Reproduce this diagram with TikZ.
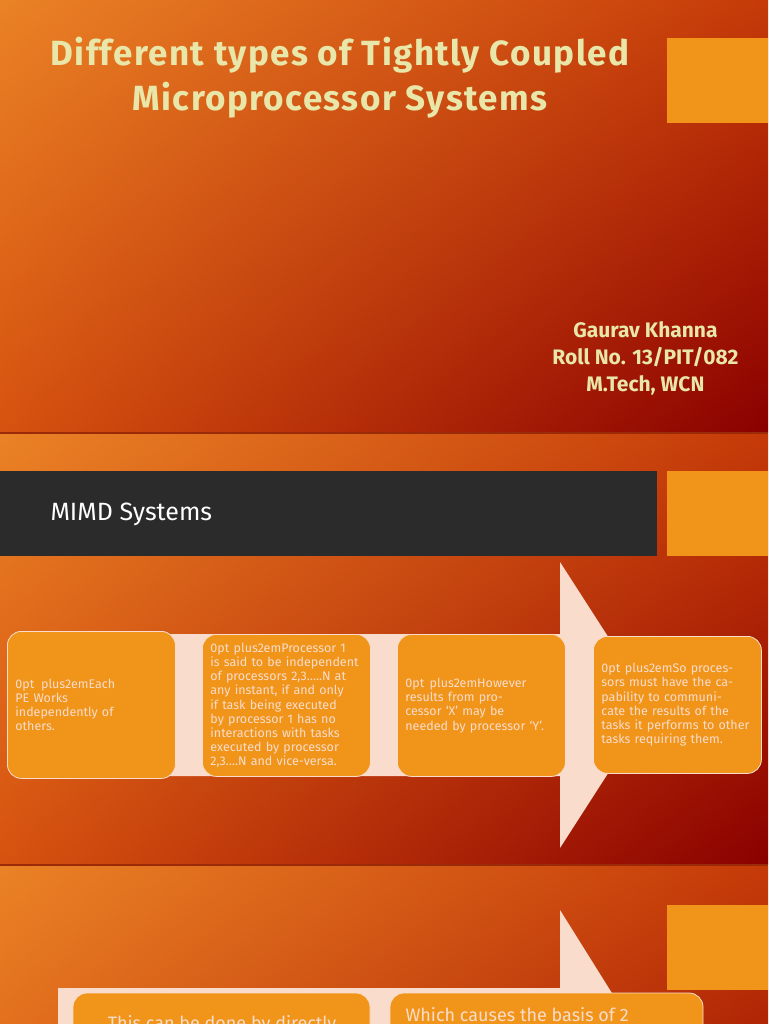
\documentclass[tikz,border=0pt]{standalone}
\usepackage{fontspec}
\usetikzlibrary{shadings}
\setmainfont{Fira Sans}
\definecolor{og}{HTML}{F0951A}
\definecolor{ul}{HTML}{EA8226}
\definecolor{ur}{HTML}{C53A08}
\definecolor{ll}{HTML}{D6520F}
\definecolor{lr}{HTML}{8A0000}
\definecolor{pale}{HTML}{F9DCCC}
\definecolor{ttl}{HTML}{E8E6A8}
\definecolor{sep}{HTML}{9A2A08}
\begin{document}
\begin{tikzpicture}[x=1pt,y=-1pt,
 sq/.style={fill=og},
 pbox/.style={draw=pale,line width=0.8pt,fill=og,rounded corners=14pt,minimum width=168pt,minimum height=142pt,text width=152pt,align=center,text=pale,font=\fontsize{12.5}{14.2}\selectfont\hyphenpenalty=10000,anchor=north west},
 sbox/.style={draw=pale,line width=0.8pt,fill=og,rounded corners=14pt,anchor=north west},
 ttlfont/.style={text=ttl,font=\fontsize{35}{45}\selectfont\bfseries\addfontfeature{LetterSpace=4},align=center}]
\useasboundingbox (0,0) rectangle (768,1024);
\begin{scope}
\clip (0,0) rectangle (768,1024);
\foreach \a/\b in {0/432,434/864,866/1296}{
 \shade[upper left=ul,upper right=ur,lower left=ll,lower right=lr] (0,\a) rectangle (768,\b);
}
\fill[sep] (0,432) rectangle (768,434);
\fill[sep] (0,864) rectangle (768,866);
% slide 1
\fill[sq] (667,38) rectangle (768,123);
\node[ttlfont] (t1) at (340,78) {Different types of Tightly Coupled\\Microprocessor Systems};
\node[text=ttl,font=\fontsize{21}{27}\selectfont\bfseries,align=center,anchor=east] (auth) at (742,358) {Gaurav Khanna\\Roll No. 13/PIT/082\\M.Tech, WCN};
% slide 2
\fill[black!83] (0,471) rectangle (657,556);
\fill[sq] (667,471) rectangle (768,556);
\node[text=white,font=\fontsize{25}{30}\selectfont,anchor=west] (mimd) at (47,514) {MIMD Systems};
\fill[pale] (60,634) -- (560,634) -- (560,562) -- (652,705) -- (560,848) -- (560,776) -- (60,776) -- cycle;
\node[pbox,minimum height=147pt] (b1) at (7,631) {Each PE Works\\independently of\\others.};
\node[pbox] (b2) at (202,634) {Processor 1 is said to be independent of processors 2,3…..N at any instant, if and only if task being executed by processor 1 has no interactions with tasks executed by processor 2,3….N and vice-versa.};
\node[pbox] (b3) at (397,634) {However results from processor ‘X’ may be needed by processor ‘Y’.};
\node[pbox,minimum height=137pt] (b4) at (593,636) {So processors must have the capability to communicate the results of the tasks it performs to other tasks requiring them.};
% slide 3
\fill[sq] (667,905) rectangle (768,990);
\fill[pale] (58,988) -- (560,988) -- (560,910) -- (660,1070) -- (58,1070) -- cycle;
\draw[sbox] (73,993) rectangle (370,1060);
\draw[sbox] (390,993) rectangle (703,1060);
\node[text=pale,font=\fontsize{18}{22}\selectfont,anchor=north] (c1) at (222,1012) {This can be done by directly};
\node[text=pale,font=\fontsize{18}{22}\selectfont,anchor=north west] (c2) at (402,1004) {Which causes the basis of 2};
\end{scope}
\end{tikzpicture}
\end{document}
